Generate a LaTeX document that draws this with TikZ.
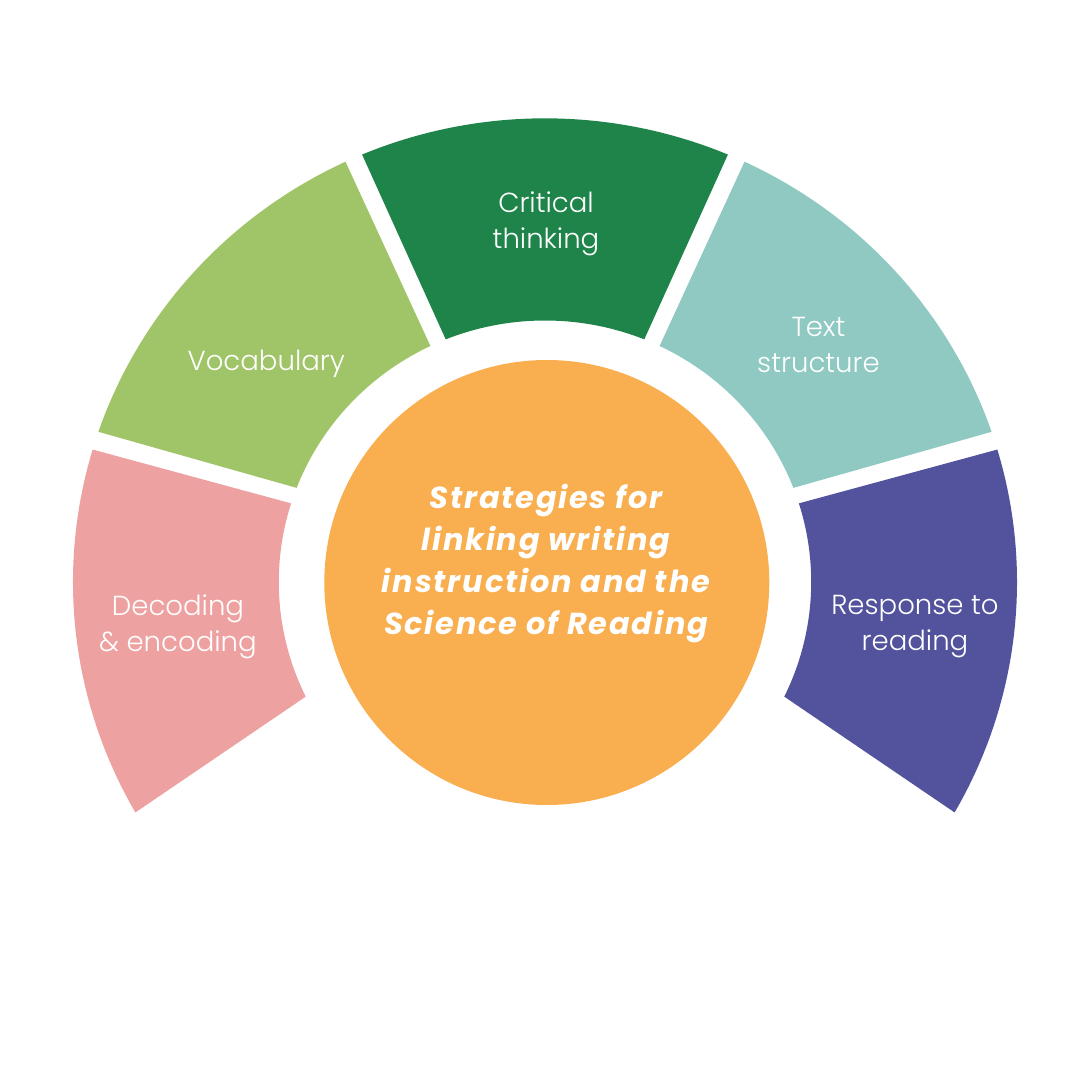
\documentclass[tikz,border=0pt]{standalone}
\usepackage{fontspec}
\newfontfamily\segfont{Poppins}[UprightFont={* Light}]
\newfontfamily\hubfont{Poppins}[UprightFont={* Bold Italic}, LetterSpace=6]
\usepackage{tikz}
\usetikzlibrary{positioning}

\definecolor{decodepink}{HTML}{EEA1A1}
\definecolor{vocabgreen}{HTML}{A0C468}
\definecolor{critgreen}{HTML}{1E8449}
\definecolor{textteal}{HTML}{8FC9C2}
\definecolor{respviolet}{HTML}{52529D}
\definecolor{huborange}{HTML}{F9AE4F}

\newcommand{\Rout}{463.7}
\newcommand{\Rin}{261.5}
% colour, outer start, outer end, inner start, inner end
\newcommand{\ringpart}[5]{%
  \fill[#1] (#2:\Rout) arc[start angle=#2, end angle=#3, radius=\Rout]
    -- (#5:\Rin) arc[start angle=#5, end angle=#4, radius=\Rin] -- cycle;}

\begin{document}
\begin{tikzpicture}[
  x=0.025cm, y=0.025cm,
  lbl/.style={text=white, align=center, font=\segfont\fontsize{19.6pt}{25.6pt}\selectfont},
  hub/.style={circle, fill=huborange, minimum size=445*0.025cm, inner sep=0pt},
  hubtext/.style={text=white, align=center, font=\hubfont\fontsize{21.6pt}{29.9pt}\selectfont}
]
  \useasboundingbox (-545,-498) rectangle (535,582);

  \begin{scope}[xscale=1.018]
    \ringpart{decodepink}{163.4}{209.8}{162.5}{206.0}
    \ringpart{vocabgreen}{115.0}{161.1}{115.5}{158.9}
    \ringpart{critgreen}{67.2}{112.8}{68.1}{111.9}
    \ringpart{textteal}{18.9}{65.0}{21.1}{64.5}
    \ringpart{respviolet}{-29.8}{16.6}{-26.0}{17.5}
  \end{scope}

  \node[hub] (hub) at (1.8,-0.5) {};
  \node[hubtext] (hubtxt) at (1,18.6) {Strategies for\\linking writing\\instruction and the\\Science of Reading};

  \node[lbl] (crit) at (1,358) {Critical\\thinking};
  \node[lbl, anchor=base] (vocab) at (-278.7,211.3) {Vocabulary};
  \node[lbl] (text) at (273.5,236.6) {Text\\structure};
  \node[lbl] (decode) at (-367,-44.7) {Decoding\\\&~encoding};
  \node[lbl] (resp) at (370,-44.7) {Response to\\reading};
\end{tikzpicture}
\end{document}
